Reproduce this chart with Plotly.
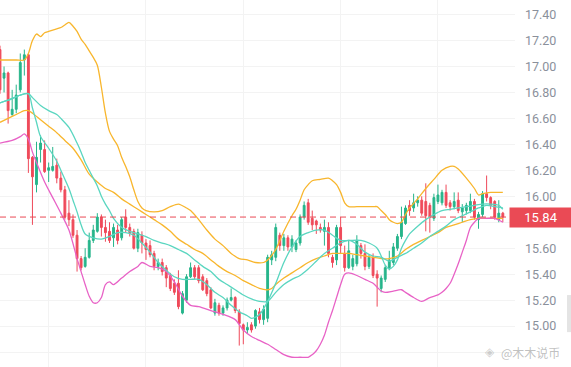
import plotly.graph_objects as go

# ---------------- data ----------------
candle_index = list(range(125))
opens = [17.13, 16.91, 16.95, 16.63, 16.67, 16.82, 17.05, 17.09, 16.30, 16.09,
         16.36, 16.36, 16.20, 16.20, 16.24, 16.14, 16.05, 15.87, 15.82, 15.70,
         15.52, 15.46, 15.53, 15.66, 15.73, 15.84, 15.76, 15.73, 15.68, 15.74,
         15.68, 15.84, 15.76, 15.73, 15.60, 15.70, 15.64, 15.62, 15.56, 15.46,
         15.49, 15.45, 15.39, 15.33, 15.33, 15.10, 15.20, 15.38, 15.45, 15.45,
         15.38, 15.35, 15.28, 15.10, 15.16, 15.10, 15.14, 15.20, 15.22, 15.11,
         15.01, 14.97, 15.01, 15.00, 15.11, 15.05, 15.06, 15.51, 15.53, 15.70,
         15.62, 15.68, 15.61, 15.59, 15.64, 15.84, 15.95, 15.83, 15.81, 15.76,
         15.73, 15.76, 15.53, 15.51, 15.76, 15.56, 15.45, 15.46, 15.48, 15.62,
         15.56, 15.46, 15.53, 15.40, 15.29, 15.36, 15.45, 15.49, 15.60, 15.69,
         15.79, 15.93, 15.91, 15.95, 15.97, 15.96, 15.93, 15.83, 15.96, 15.95,
         16.03, 15.95, 15.92, 15.97, 15.88, 15.89, 15.89, 15.96, 15.82, 15.86,
         16.02, 15.99, 15.96, 15.82, 15.87]
highs = [17.16, 17.00, 16.96, 16.82, 16.86, 17.10, 17.13, 17.10, 16.31, 16.42,
         16.47, 16.43, 16.26, 16.38, 16.29, 16.19, 16.08, 15.97, 15.86, 15.74,
         15.54, 15.60, 15.72, 15.78, 15.87, 15.86, 15.82, 15.80, 15.79, 15.78,
         15.84, 15.90, 15.79, 15.75, 15.75, 15.73, 15.67, 15.66, 15.58, 15.52,
         15.52, 15.47, 15.41, 15.36, 15.43, 15.27, 15.40, 15.49, 15.47, 15.47,
         15.40, 15.37, 15.30, 15.21, 15.18, 15.16, 15.22, 15.29, 15.23, 15.13,
         15.02, 15.03, 15.03, 15.13, 15.14, 15.16, 15.55, 15.58, 15.79, 15.72,
         15.71, 15.70, 15.70, 15.66, 15.86, 15.96, 15.98, 15.89, 15.82, 15.79,
         15.82, 15.80, 15.55, 15.78, 15.84, 15.62, 15.66, 15.55, 15.70, 15.64,
         15.63, 15.55, 15.56, 15.43, 15.39, 15.47, 15.58, 15.64, 15.71, 15.92,
         15.93, 15.97, 16.02, 16.00, 16.00, 16.10, 15.95, 16.02, 16.09, 16.05,
         16.09, 15.97, 16.03, 16.03, 15.94, 15.95, 16.02, 15.98, 15.88, 16.04,
         16.16, 16.00, 15.97, 15.97, 15.88]
lows = [16.79, 16.80, 16.56, 16.62, 16.64, 16.80, 16.93, 16.18, 15.78, 16.03,
        16.26, 16.18, 16.11, 16.19, 16.10, 16.03, 15.82, 15.77, 15.68, 15.42,
        15.43, 15.45, 15.52, 15.64, 15.72, 15.69, 15.65, 15.64, 15.61, 15.63,
        15.66, 15.72, 15.69, 15.59, 15.57, 15.56, 15.51, 15.53, 15.43, 15.43,
        15.39, 15.30, 15.27, 15.24, 15.13, 15.09, 15.18, 15.37, 15.36, 15.33,
        15.27, 15.23, 15.13, 15.08, 15.08, 15.08, 15.12, 15.19, 15.10, 14.85,
        14.86, 14.94, 14.95, 14.98, 15.02, 15.01, 15.03, 15.47, 15.50, 15.58,
        15.58, 15.58, 15.57, 15.57, 15.62, 15.82, 15.78, 15.74, 15.71, 15.72,
        15.62, 15.53, 15.45, 15.47, 15.56, 15.42, 15.44, 15.43, 15.46, 15.52,
        15.43, 15.44, 15.37, 15.15, 15.26, 15.34, 15.43, 15.47, 15.58, 15.67,
        15.78, 15.85, 15.88, 15.92, 15.85, 15.73, 15.72, 15.81, 15.94, 15.93,
        15.91, 15.89, 15.90, 15.87, 15.80, 15.86, 15.87, 15.82, 15.75, 15.84,
        15.96, 15.90, 15.82, 15.80, 15.80]
closes = [16.82, 16.95, 16.66, 16.67, 16.78, 17.03, 17.09, 16.29, 16.15, 16.30,
          16.41, 16.19, 16.22, 16.23, 16.14, 16.05, 15.84, 15.82, 15.70, 15.52,
          15.45, 15.53, 15.66, 15.74, 15.84, 15.76, 15.72, 15.66, 15.76, 15.66,
          15.82, 15.76, 15.72, 15.60, 15.72, 15.64, 15.59, 15.55, 15.46, 15.49,
          15.42, 15.37, 15.29, 15.26, 15.15, 15.25, 15.38, 15.45, 15.38, 15.35,
          15.28, 15.25, 15.14, 15.18, 15.10, 15.14, 15.20, 15.22, 15.12, 15.02,
          14.97, 14.99, 14.97, 15.12, 15.05, 15.13, 15.53, 15.55, 15.76, 15.62,
          15.68, 15.61, 15.67, 15.64, 15.84, 15.93, 15.80, 15.78, 15.78, 15.74,
          15.76, 15.56, 15.49, 15.76, 15.62, 15.45, 15.58, 15.52, 15.66, 15.56,
          15.46, 15.53, 15.39, 15.37, 15.37, 15.45, 15.51, 15.61, 15.69, 15.80,
          15.91, 15.89, 15.95, 15.97, 15.87, 15.85, 15.84, 15.99, 16.01, 16.03,
          15.93, 15.92, 15.96, 15.89, 15.91, 15.93, 15.96, 15.84, 15.86, 16.02,
          15.99, 15.93, 15.84, 15.87, 15.84]

# Bollinger upper band (orange)
upper_idx = [0, 4, 6, 7, 8, 9, 10, 11, 12, 14, 15, 16, 17, 18, 19, 20, 21, 22, 23, 24,
             25, 26, 27, 28, 29, 30, 31, 32, 33, 34, 35, 36, 38, 40, 42, 44, 46, 47, 49, 51,
             53, 55, 57, 59, 61, 63, 65, 66, 68, 70, 72, 73, 74, 75, 76, 77, 79, 81, 82, 83,
             84, 85, 86, 88, 90, 92, 93, 94, 95, 96, 97, 98, 99, 100, 101, 103, 105, 107, 109, 111,
             112, 113, 115, 117, 118, 119, 121, 124]
upper_val = [17.05, 17.05, 17.05, 17.10, 17.20, 17.25, 17.23, 17.26, 17.27, 17.29, 17.30, 17.32, 17.34, 17.31, 17.27, 17.21, 17.17, 17.12, 17.07, 17.01,
             16.84, 16.64, 16.50, 16.44, 16.39, 16.30, 16.23, 16.15, 16.05, 15.96, 15.91, 15.89, 15.88, 15.89, 15.92, 15.94, 15.91, 15.89, 15.82, 15.74,
             15.67, 15.62, 15.56, 15.52, 15.51, 15.49, 15.49, 15.51, 15.59, 15.73, 15.85, 15.90, 15.97, 16.05, 16.09, 16.12, 16.13, 16.14, 16.12, 16.09,
             16.03, 15.95, 15.92, 15.92, 15.92, 15.92, 15.92, 15.89, 15.86, 15.82, 15.80, 15.79, 15.80, 15.86, 15.91, 15.98, 16.06, 16.13, 16.20, 16.23,
             16.23, 16.21, 16.14, 16.06, 16.01, 16.02, 16.03, 16.03]

# Bollinger middle band (orange)
mid_idx = [0, 2, 4, 6, 7, 8, 10, 12, 14, 16, 18, 20, 22, 24, 26, 28, 30, 32, 34, 36,
           38, 40, 42, 44, 46, 48, 50, 52, 54, 56, 58, 60, 62, 64, 66, 67, 68, 70, 72, 74,
           76, 78, 80, 82, 84, 86, 88, 90, 92, 94, 96, 98, 100, 102, 104, 106, 108, 110, 112, 114,
           116, 118, 120, 122, 124]
mid_val = [16.57, 16.60, 16.63, 16.66, 16.66, 16.64, 16.59, 16.54, 16.49, 16.43, 16.37, 16.28, 16.17, 16.11, 16.06, 16.03, 15.98, 15.94, 15.90, 15.86,
           15.82, 15.78, 15.73, 15.67, 15.63, 15.59, 15.56, 15.51, 15.46, 15.42, 15.39, 15.35, 15.32, 15.29, 15.28, 15.29, 15.32, 15.37, 15.41, 15.45,
           15.49, 15.52, 15.54, 15.56, 15.56, 15.56, 15.55, 15.54, 15.53, 15.52, 15.52, 15.54, 15.59, 15.63, 15.66, 15.69, 15.72, 15.76, 15.78, 15.80,
           15.82, 15.83, 15.83, 15.83, 15.83]

# Bollinger lower band (pink)
lower_idx = [0, 3, 5, 6, 7, 8, 9, 11, 13, 15, 17, 19, 20, 21, 22, 23, 24, 25, 26, 27,
             28, 30, 32, 34, 35, 37, 39, 41, 43, 45, 47, 49, 52, 55, 58, 60, 62, 64, 66, 68,
             70, 72, 74, 76, 77, 78, 79, 80, 81, 82, 83, 84, 85, 86, 88, 90, 92, 93, 94, 95,
             97, 99, 100, 102, 104, 106, 108, 109, 110, 111, 112, 113, 114, 115, 116, 117, 118, 120, 122, 124]
lower_val = [16.41, 16.43, 16.46, 16.48, 16.44, 16.34, 16.26, 16.11, 15.99, 15.87, 15.74, 15.52, 15.42, 15.32, 15.23, 15.18, 15.18, 15.22, 15.32, 15.34,
             15.32, 15.37, 15.42, 15.46, 15.49, 15.46, 15.45, 15.42, 15.34, 15.23, 15.16, 15.15, 15.12, 15.09, 15.05, 14.97, 14.92, 14.89, 14.86, 14.82,
             14.78, 14.76, 14.76, 14.76, 14.78, 14.81, 14.86, 14.93, 15.03, 15.12, 15.22, 15.32, 15.40, 15.41, 15.39, 15.36, 15.33, 15.30, 15.27, 15.26,
             15.27, 15.28, 15.26, 15.22, 15.19, 15.22, 15.24, 15.26, 15.29, 15.33, 15.40, 15.48, 15.57, 15.66, 15.76, 15.80, 15.83, 15.83, 15.83, 15.80]

# fast moving average (teal)
ma_fast_idx = [0, 2, 5, 7, 8, 9, 10, 12, 14, 15, 17, 18, 19, 20, 21, 23, 25, 27, 29, 31,
               33, 35, 37, 39, 41, 43, 45, 47, 49, 51, 53, 55, 57, 59, 61, 62, 64, 66, 68, 70,
               72, 74, 76, 78, 80, 82, 84, 86, 89, 91, 93, 94, 95, 96, 97, 98, 99, 100, 101, 103,
               105, 107, 109, 111, 113, 115, 117, 119, 121, 123, 124]
ma_fast_val = [16.72, 16.74, 16.78, 16.79, 16.68, 16.57, 16.46, 16.37, 16.27, 16.20, 16.06, 15.97, 15.88, 15.78, 15.71, 15.68, 15.67, 15.69, 15.72, 15.72,
               15.70, 15.64, 15.57, 15.49, 15.43, 15.38, 15.36, 15.36, 15.36, 15.32, 15.26, 15.22, 15.16, 15.11, 15.08, 15.06, 15.09, 15.19, 15.33, 15.49,
               15.61, 15.69, 15.72, 15.74, 15.74, 15.70, 15.66, 15.66, 15.66, 15.64, 15.60, 15.54, 15.47, 15.44, 15.46, 15.51, 15.60, 15.66, 15.71, 15.77,
               15.82, 15.86, 15.89, 15.90, 15.91, 15.92, 15.93, 15.94, 15.94, 15.93, 15.90]

# slow moving average (teal)
ma_slow_idx = [0, 2, 5, 7, 8, 10, 12, 14, 15, 17, 19, 20, 21, 22, 23, 24, 25, 26, 27, 28,
               30, 32, 34, 36, 38, 40, 42, 44, 46, 48, 50, 52, 54, 56, 58, 60, 62, 64, 66, 68,
               70, 72, 74, 76, 78, 80, 82, 84, 86, 88, 90, 92, 94, 96, 98, 100, 102, 104, 106, 108,
               110, 112, 114, 116, 118, 120, 122, 124]
ma_slow_val = [16.72, 16.74, 16.78, 16.79, 16.76, 16.70, 16.66, 16.63, 16.60, 16.53, 16.41, 16.34, 16.26, 16.20, 16.14, 16.08, 16.00, 15.94, 15.89, 15.83,
               15.76, 15.73, 15.71, 15.69, 15.66, 15.64, 15.62, 15.59, 15.56, 15.51, 15.46, 15.42, 15.36, 15.32, 15.28, 15.24, 15.21, 15.19, 15.19, 15.26,
               15.32, 15.36, 15.39, 15.44, 15.50, 15.56, 15.60, 15.64, 15.66, 15.63, 15.57, 15.54, 15.53, 15.50, 15.53, 15.56, 15.60, 15.64, 15.69, 15.73,
               15.77, 15.82, 15.85, 15.88, 15.91, 15.93, 15.92, 15.91]

y_tick_values = [14.80, 15.00, 15.20, 15.40, 15.60, 15.80, 16.00, 16.20, 16.40, 16.60,
                 16.80, 17.00, 17.20, 17.40, 17.60]
y_tick_labels = ["", "15.00", "15.20", "15.40", "15.60", "", "16.00", "16.20", "16.40", "16.60",
                 "16.80", "17.00", "17.20", "17.40", "17.60"]
x_grid_values = [12, 36, 60, 84, 108]
watermark_text = "@木木说币"

# ---------------- styles ----------------
UP = "#27b58b"
DOWN = "#ef4a5a"
ORANGE = "#f8b62d"
PINK = "#e862c6"
TEAL = "#5ad6c0"
LABEL_RED = "#ea4a55"

fig = go.Figure()
fig.add_trace(go.Candlestick(
    x=candle_index, open=opens, high=highs, low=lows, close=closes,
    increasing=dict(line=dict(color=UP, width=1), fillcolor=UP),
    decreasing=dict(line=dict(color=DOWN, width=1), fillcolor=DOWN),
    whiskerwidth=0, hoverinfo="skip", showlegend=False,
))

def add_line(xs, ys, color):
    fig.add_trace(go.Scatter(x=xs, y=ys, mode="lines",
                             line=dict(color=color, width=1.3, shape="spline", smoothing=0.8),
                             hoverinfo="skip", showlegend=False))

add_line(upper_idx, upper_val, ORANGE)
add_line(mid_idx, mid_val, ORANGE)
add_line(lower_idx, lower_val, PINK)
add_line(ma_slow_idx, ma_slow_val, TEAL)
add_line(ma_fast_idx, ma_fast_val, TEAL)

last_price = closes[-1]

fig.update_layout(
    width=571, height=367,
    margin=dict(l=0, r=56, t=0, b=0),
    paper_bgcolor="white", plot_bgcolor="white",
    showlegend=False, boxgap=0.35,
    font=dict(family="Roboto, Arial, sans-serif"),
    xaxis=dict(range=[0, 127.0], tickvals=x_grid_values, showticklabels=False,
               showgrid=True, gridcolor="#f3f3f3", gridwidth=1, zeroline=False,
               showline=False, ticks="", rangeslider=dict(visible=False), fixedrange=True),
    yaxis=dict(side="right", range=[14.685, 17.512], tickvals=y_tick_values, ticktext=y_tick_labels,
               showgrid=True, gridcolor="#f3f3f3", gridwidth=1, zeroline=False, showline=False,
               ticks="", ticklabelstandoff=9,
               tickfont=dict(size=12.5, color="#8a909b", family="Roboto, Arial, sans-serif"),
               fixedrange=True),
    shapes=[
        dict(type="line", xref="paper", x0=0, x1=1, yref="y", y0=last_price, y1=last_price,
             line=dict(color=LABEL_RED, width=1, dash="6px,4px"), layer="above"),
        dict(type="rect", xref="paper", x0=1.101, x1=1.12, yref="paper", y0=0.095, y1=0.196,
             fillcolor="#e4e4e4", line=dict(width=0), layer="above"),
    ],
    annotations=[
        dict(xref="paper", x=1, xshift=-6, xanchor="left", yref="y", y=last_price, yanchor="middle",
             text=f"{last_price:.2f}", showarrow=False, bgcolor=LABEL_RED, width=58, height=15,
             borderpad=2, align="center",
             font=dict(color="white", size=13, family="Roboto, Arial, sans-serif")),
        dict(xref="paper", x=1.092, xanchor="right", yref="paper", y=0.04, yanchor="middle",
             text=watermark_text, showarrow=False,
             font=dict(color="rgba(140,140,140,0.55)", size=12, family="Noto Sans CJK SC")),
        dict(xref="paper", x=0.966, xanchor="right", yref="paper", y=0.04, yanchor="middle",
             text="◈", showarrow=False,
             font=dict(color="rgba(150,150,150,0.45)", size=12, family="DejaVu Sans")),
    ],
)

fig.write_html(
    "out.html",
    config={"displayModeBar": False, "staticPlot": True},
    post_script="document.body.style.margin='0';document.body.style.overflow='hidden';",
)
